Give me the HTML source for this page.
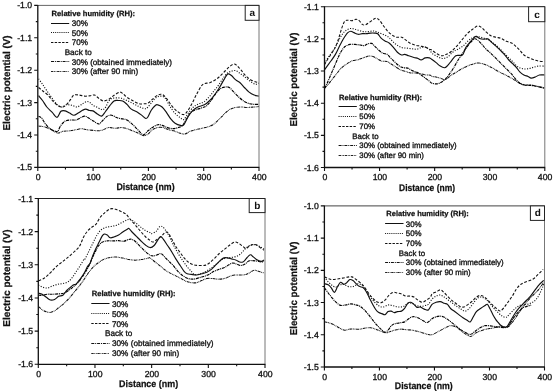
<!DOCTYPE html>
<html lang="en"><head><meta charset="utf-8"><title>Electric potential vs distance at different relative humidity</title>
<style>html,body{margin:0;padding:0;background:#fff}svg{display:block}text{font-family:"Liberation Sans",sans-serif;fill:#111;text-rendering:geometricPrecision}.tk{font-size:8.7px;stroke:#111;stroke-width:.3px}.lg{font-size:8.1px;stroke:#111;stroke-width:.32px}.lt{font-size:7.6px;font-weight:bold;stroke:#111;stroke-width:.25px}.ax{font-size:9.6px;font-weight:bold;stroke:#111;stroke-width:.25px}.pl{font-size:10px;font-weight:bold}polyline,path{fill:none;stroke-linejoin:round}</style></head><body>
<svg width="553" height="392" viewBox="0 0 553 392">
<rect width="553" height="392" fill="#fff"/>
<g id="panel-a">
<path stroke="#111" stroke-width="1.05" stroke-dasharray="3 0.7 0.8 0.7 0.8 0.7" d="M38.6 126.06C39.61 126.2 42.57 126.31 44.67 126.92C46.76 127.54 49 128.73 51.16 129.74C53.33 130.75 55.68 132.74 57.66 132.99C59.65 133.24 61.09 131.62 63.08 131.26C65.07 130.89 67.41 131.07 69.58 130.82C71.74 130.57 74.09 130.1 76.08 129.74C78.06 129.38 79.69 128.66 81.49 128.66C83.3 128.66 84.92 129.45 86.91 129.74C88.89 130.03 91.42 130.21 93.41 130.39C95.39 130.57 97.2 130.93 98.82 130.82C100.45 130.71 101.53 130.28 103.16 129.74C104.78 129.2 106.59 127.83 108.57 127.57C110.56 127.32 112.91 128.22 115.07 128.22C117.24 128.22 119.58 127.5 121.57 127.57C123.56 127.64 125.18 128.11 126.99 128.66C128.79 129.2 130.6 130.1 132.4 130.82C134.21 131.54 136.01 132.19 137.82 132.99C139.62 133.78 141.54 135.41 143.23 135.59C144.93 135.77 146.48 135.05 148 134.07C149.52 133.1 150.71 130.82 152.33 129.74C153.96 128.66 155.94 127.93 157.75 127.57C159.55 127.21 161.36 127.21 163.16 127.57C164.97 127.93 166.77 129.2 168.58 129.74C170.39 130.28 172.19 130.28 174 130.82C175.8 131.36 177.61 132.45 179.41 132.99C181.22 133.53 183.02 134.36 184.83 134.07C186.63 133.78 188.44 131.98 190.24 131.26C192.05 130.53 193.67 130.24 195.66 129.74C197.65 129.23 200.17 128.69 202.16 128.22C204.14 127.75 205.77 127.5 207.57 126.92C209.38 126.34 211.37 125.73 212.99 124.76C214.62 123.78 215.88 122.41 217.32 121.07C218.77 119.74 220.21 118.19 221.66 116.74C223.1 115.3 224.54 113.67 225.99 112.41C227.43 111.14 228.7 109.99 230.32 109.16C231.95 108.33 233.93 107.79 235.74 107.43C237.54 107.06 239.17 106.99 241.15 106.99C243.14 106.99 245.49 107.43 247.65 107.43C249.82 107.43 252.27 107.14 254.15 106.99C256.03 106.85 258.12 106.63 258.92 106.56"/>
<path stroke="#000" stroke-width="1.15" stroke-dasharray="3 0.8 1 0.8" d="M38.6 116.31C39.07 116.56 40.22 116.49 41.42 117.82C42.61 119.16 44.3 122.52 45.75 124.32C47.19 126.13 48.64 127.57 50.08 128.66C51.53 129.74 53.15 130.39 54.41 130.82C55.68 131.26 56.58 132.16 57.66 131.26C58.75 130.35 59.65 127.1 60.91 125.41C62.18 123.71 63.62 121.98 65.25 121.07C66.87 120.17 68.86 120.17 70.66 119.99C72.47 119.81 74.45 120.35 76.08 119.99C77.7 119.63 78.97 118.47 80.41 117.82C81.85 117.17 83.3 116.02 84.74 116.09C86.19 116.16 87.63 117.43 89.08 118.26C90.52 119.09 91.78 120.13 93.41 121.07C95.03 122.01 97.2 124.07 98.82 123.89C100.45 123.71 101.71 121.29 103.16 119.99C104.6 118.69 106.05 116.89 107.49 116.09C108.93 115.3 110.2 114.94 111.82 115.22C113.45 115.51 115.43 117.21 117.24 117.82C119.04 118.44 121.03 118.55 122.65 118.91C124.28 119.27 125.36 119.09 126.99 119.99C128.61 120.89 130.6 122.7 132.4 124.32C134.21 125.95 136.01 128.01 137.82 129.74C139.62 131.47 141.54 134.54 143.23 134.72C144.93 134.9 146.48 132.01 148 130.82C149.52 129.63 150.71 128.58 152.33 127.57C153.96 126.56 156.12 125.12 157.75 124.76C159.37 124.4 160.46 124.94 162.08 125.41C163.71 125.88 165.69 127.03 167.5 127.57C169.3 128.11 171.11 128.66 172.91 128.66C174.72 128.66 176.7 128.11 178.33 127.57C179.95 127.03 181.4 126.67 182.66 125.41C183.93 124.14 184.65 122.05 185.91 119.99C187.17 117.93 188.8 114.68 190.24 113.06C191.69 111.43 192.77 111.07 194.58 110.24C196.38 109.41 199.09 108.8 201.08 108.08C203.06 107.35 204.69 107.35 206.49 105.91C208.3 104.46 210.28 101.58 211.91 99.41C213.53 97.24 214.8 94.72 216.24 92.91C217.68 91.11 219.13 89.55 220.57 88.58C222.02 87.6 223.46 87.24 224.91 87.06C226.35 86.88 227.79 86.7 229.24 87.5C230.68 88.29 231.95 90.2 233.57 91.83C235.2 93.45 237.18 95.62 238.99 97.24C240.79 98.87 242.6 100.49 244.4 101.58C246.21 102.66 248.01 103.27 249.82 103.74C251.62 104.21 253.72 104.28 255.23 104.39C256.75 104.5 258.3 104.39 258.92 104.39"/>
<path stroke="#111" stroke-width="1.1" stroke-dasharray="1.1 1.5" d="M38.6 78.83C39.25 79.73 41.13 82.26 42.5 84.25C43.87 86.23 45.21 88.4 46.83 90.74C48.46 93.09 50.44 95.91 52.25 98.33C54.05 100.75 56.04 103.81 57.66 105.26C59.29 106.7 60.55 107.06 62 106.99C63.44 106.92 64.7 105.11 66.33 104.83C67.95 104.54 69.94 104.9 71.74 105.26C73.55 105.62 75.36 107.25 77.16 106.99C78.97 106.74 80.95 104.65 82.58 103.74C84.2 102.84 85.65 101.76 86.91 101.58C88.17 101.4 89.15 102.05 90.16 102.66C91.17 103.27 91.78 104.46 92.97 105.26C94.17 106.05 95.86 106.7 97.31 107.43C98.75 108.15 100.56 109.3 101.64 109.59C102.72 109.88 103.05 109.7 103.81 109.16C104.56 108.62 105.43 107.61 106.19 106.34C106.95 105.08 107.45 102.88 108.36 101.58C109.26 100.28 110.31 99.16 111.61 98.54C112.91 97.93 114.49 97.93 116.15 97.89C117.82 97.86 119.77 97.89 121.57 98.33C123.38 98.76 125 99.59 126.99 100.49C128.97 101.4 131.32 102.66 133.49 103.74C135.65 104.83 138 106.16 139.98 106.99C141.97 107.82 144.06 108.73 145.4 108.73C146.74 108.73 146.84 108.18 148 106.99C149.16 105.8 150.89 103.2 152.33 101.58C153.78 99.95 155.22 98.15 156.67 97.24C158.11 96.34 159.55 95.98 161 96.16C162.44 96.34 163.89 96.7 165.33 98.33C166.77 99.95 168.04 103.38 169.66 105.91C171.29 108.44 173.27 111.51 175.08 113.49C176.88 115.48 179.05 116.81 180.5 117.82C181.94 118.83 182.48 120.28 183.74 119.56C185.01 118.83 186.45 115.59 188.08 113.49C189.7 111.4 191.69 108.62 193.49 106.99C195.3 105.37 197.1 104.65 198.91 103.74C200.71 102.84 202.52 102.84 204.32 101.58C206.13 100.31 208.12 97.97 209.74 96.16C211.37 94.36 212.63 92.55 214.07 90.74C215.52 88.94 216.96 87.31 218.41 85.33C219.85 83.34 221.29 80.82 222.74 78.83C224.18 76.84 225.63 74.68 227.07 73.41C228.52 72.15 229.96 71.72 231.4 71.25C232.85 70.78 234.29 70.24 235.74 70.6C237.18 70.96 238.63 72.4 240.07 73.41C241.51 74.42 242.78 75.4 244.4 76.66C246.03 77.93 248.01 79.73 249.82 81C251.62 82.26 253.72 83.88 255.23 84.25C256.75 84.61 258.3 83.34 258.92 83.16"/>
<path stroke="#111" stroke-width="1.1" stroke-dasharray="2.8 1.7" d="M38.6 87.5C39.25 88.04 40.95 89.48 42.5 90.74C44.05 92.01 46.11 93.27 47.91 95.08C49.72 96.88 51.53 99.77 53.33 101.58C55.14 103.38 57.12 105.01 58.75 105.91C60.37 106.81 61.64 107.35 63.08 106.99C64.52 106.63 66.15 105.01 67.41 103.74C68.68 102.48 69.58 100.85 70.66 99.41C71.74 97.97 72.47 95.8 73.91 95.08C75.36 94.36 77.52 94.9 79.33 95.08C81.13 95.26 82.94 96.05 84.74 96.16C86.55 96.27 88.53 95.91 90.16 95.73C91.78 95.55 93.05 94.64 94.49 95.08C95.94 95.51 97.38 97.35 98.82 98.33C100.27 99.3 101.53 100.75 103.16 100.93C104.78 101.11 106.95 100.2 108.57 99.41C110.2 98.62 111.1 97.35 112.91 96.16C114.71 94.97 117.78 92.69 119.4 92.26C121.03 91.83 121.39 92.73 122.65 93.56C123.92 94.39 125.36 96.09 126.99 97.24C128.61 98.4 130.42 99.41 132.4 100.49C134.39 101.58 136.92 103.2 138.9 103.74C140.89 104.28 142.8 103.85 144.32 103.74C145.83 103.63 146.66 103.81 148 103.09C149.34 102.37 150.71 100.75 152.33 99.41C153.96 98.07 156.12 95.91 157.75 95.08C159.37 94.25 160.64 93.89 162.08 94.43C163.53 94.97 164.79 96.41 166.41 98.33C168.04 100.24 170.02 103.74 171.83 105.91C173.64 108.08 175.26 109.88 177.25 111.32C179.23 112.77 181.94 114.75 183.74 114.57C185.55 114.39 186.63 112.23 188.08 110.24C189.52 108.26 190.97 105.37 192.41 102.66C193.85 99.95 195.3 96.7 196.74 93.99C198.19 91.29 199.81 88.15 201.08 86.41C202.34 84.68 202.88 84.21 204.32 83.6C205.77 82.98 207.94 83.34 209.74 82.73C211.55 82.12 213.53 80.92 215.16 79.91C216.78 78.9 218.05 77.93 219.49 76.66C220.93 75.4 222.2 73.96 223.82 72.33C225.45 70.71 227.61 68.29 229.24 66.91C230.86 65.54 232.31 64.35 233.57 64.1C234.83 63.85 235.56 64.39 236.82 65.4C238.08 66.41 239.71 68.47 241.15 70.16C242.6 71.86 243.86 73.96 245.49 75.58C247.11 77.21 249.1 78.83 250.9 79.91C252.71 81 254.98 81.61 256.32 82.08C257.65 82.55 258.48 82.62 258.92 82.73"/>
<path stroke="#111" stroke-width="1.15" d="M38.6 95.73C39.25 96.52 41.13 98.62 42.5 100.49C43.87 102.37 45.21 105.01 46.83 106.99C48.46 108.98 50.55 110.68 52.25 112.41C53.94 114.14 55.57 117.57 57.01 117.39C58.46 117.21 59.54 112.41 60.91 111.32C62.28 110.24 63.8 110.6 65.25 110.89C66.69 111.18 68.13 112.34 69.58 113.06C71.02 113.78 72.47 115.22 73.91 115.22C75.36 115.22 76.8 113.89 78.24 113.06C79.69 112.23 81.31 110.89 82.58 110.24C83.84 109.59 84.67 109.12 85.83 109.16C86.98 109.19 88.32 110.17 89.51 110.46C90.7 110.75 91.68 110.31 92.97 110.89C94.27 111.47 95.86 113.06 97.31 113.92C98.75 114.79 100.3 116.45 101.64 116.09C102.98 115.73 103.99 113.46 105.32 111.76C106.66 110.06 108.21 107.71 109.66 105.91C111.1 104.1 112.54 101.83 113.99 100.93C115.43 100.02 116.88 100.49 118.32 100.49C119.77 100.49 121.21 100.28 122.65 100.93C124.1 101.58 125.54 103.02 126.99 104.39C128.43 105.76 129.51 107.82 131.32 109.16C133.12 110.49 136.01 111.32 137.82 112.41C139.62 113.49 140.81 114.65 142.15 115.66C143.49 116.67 144.86 118.29 145.83 118.47C146.81 118.65 147.1 118.11 148 116.74C148.9 115.37 149.99 112.16 151.25 110.24C152.51 108.33 154.5 106.16 155.58 105.26C156.67 104.36 156.67 104.54 157.75 104.83C158.83 105.11 160.64 105.73 162.08 106.99C163.53 108.26 164.97 110.42 166.41 112.41C167.86 114.39 169.3 117.1 170.75 118.91C172.19 120.71 173.45 122.16 175.08 123.24C176.7 124.32 179.05 125.15 180.5 125.41C181.94 125.66 182.48 126.2 183.74 124.76C185.01 123.31 186.63 119.05 188.08 116.74C189.52 114.43 190.79 112.52 192.41 110.89C194.03 109.27 195.84 108 197.83 106.99C199.81 105.98 202.34 105.91 204.32 104.83C206.31 103.74 207.94 102.3 209.74 100.49C211.55 98.69 213.53 96.16 215.16 93.99C216.78 91.83 218.05 89.84 219.49 87.5C220.93 85.15 222.45 82.15 223.82 79.91C225.19 77.67 226.46 74.79 227.72 74.06C228.99 73.34 230.07 74.61 231.4 75.58C232.74 76.56 234.29 78.72 235.74 79.91C237.18 81.1 238.63 81.47 240.07 82.73C241.51 83.99 242.96 85.98 244.4 87.5C245.85 89.01 247.11 90.56 248.74 91.83C250.36 93.09 252.45 94.36 254.15 95.08C255.85 95.8 258.12 95.98 258.92 96.16"/>
<path d="M37.8 5.4H259" fill="none" stroke="#666" stroke-width="1"/>
<path d="M259 5.4V167.4" fill="none" stroke="#777" stroke-width="1"/>
<path d="M37.8 5V167.4H259.4" fill="none" stroke="#111" stroke-width="1.3"/>
<path d="M37.8 167.4v3.6M65.45 167.4v2M93.1 167.4v3.6M120.75 167.4v2M148.4 167.4v3.6M176.05 167.4v2M203.7 167.4v3.6M231.35 167.4v2M259 167.4v3.6M37.8 5.4h-3.6M37.8 21.6h-2M37.8 37.8h-3.6M37.8 54h-2M37.8 70.2h-3.6M37.8 86.4h-2M37.8 102.6h-3.6M37.8 118.8h-2M37.8 135h-3.6M37.8 151.2h-2M37.8 167.4h-3.6" stroke="#111" stroke-width="1.1" fill="none"/>
<text class="tk" x="38.1" y="180" text-anchor="middle">0</text>
<text class="tk" x="93.4" y="180" text-anchor="middle">100</text>
<text class="tk" x="148.7" y="180" text-anchor="middle">200</text>
<text class="tk" x="204" y="180" text-anchor="middle">300</text>
<text class="tk" x="259.3" y="180" text-anchor="middle">400</text>
<text class="tk" x="32.2" y="8.4" text-anchor="end">-1.0</text>
<text class="tk" x="32.2" y="40.8" text-anchor="end">-1.1</text>
<text class="tk" x="32.2" y="73.2" text-anchor="end">-1.2</text>
<text class="tk" x="32.2" y="105.6" text-anchor="end">-1.3</text>
<text class="tk" x="32.2" y="138" text-anchor="end">-1.4</text>
<text class="tk" x="32.2" y="170.4" text-anchor="end">-1.5</text>
<text class="ax" transform="translate(145.5 190) scale(0.918 1)" text-anchor="middle" style="font-size:9.6px">Distance (nm)</text>
<text class="ax" transform="translate(10.2 83) rotate(-90) scale(0.985 1)" text-anchor="middle" style="font-size:10px">Electric potential (V)</text>
<rect x="245.2" y="5.4" width="13.8" height="14.9" fill="#fff" stroke="#222" stroke-width="1"/>
<text class="pl" x="252.4" y="16.15" text-anchor="middle">a</text>
<text class="lt" x="51.6" y="15.5" style="font-size:7.59px">Relative humidity (RH):</text>
<path stroke="#111" stroke-width="1.0" d="M51 23.5H69.2"/>
<text class="lg" x="71.7" y="26">30%</text>
<path stroke="#111" stroke-width="1.0" stroke-dasharray="1 1.1" d="M51 32.5H69.2"/>
<text class="lg" x="71.7" y="35.68">50%</text>
<path stroke="#111" stroke-width="1.0" stroke-dasharray="2.4 1.3" d="M51 42.5H69.2"/>
<text class="lg" x="71.7" y="45.36">70%</text>
<text class="lg" x="64.7" y="55.04">Back to</text>
<path stroke="#111" stroke-width="1.0" stroke-dasharray="3 0.9 1 0.9" d="M51 61.5H69.2"/>
<text class="lg" x="71.7" y="64.72">30% (obtained immediately)</text>
<path stroke="#222" stroke-width="1.0" stroke-dasharray="2.4 0.7 0.8 0.7 0.8 0.7" d="M51 71.5H69.2"/>
<text class="lg" x="71.7" y="74.4">30% (after 90 min)</text>
</g>
<g id="panel-b">
<path stroke="#111" stroke-width="1.05" stroke-dasharray="3 0.7 0.8 0.7 0.8 0.7" d="M38.48 306.63C39.1 307.15 40.89 308.87 42.2 309.73C43.5 310.59 44.95 311.35 46.33 311.79C47.7 312.24 49.08 312.59 50.46 312.41C51.83 312.24 53.21 311.55 54.59 310.76C55.96 309.97 57.17 308.87 58.72 307.66C60.27 306.46 62.16 305.08 63.88 303.53C65.6 301.98 67.32 300.26 69.04 298.37C70.76 296.48 72.49 294.24 74.21 292.17C75.93 290.11 77.65 288.22 79.37 285.98C81.09 283.74 82.98 280.99 84.53 278.75C86.08 276.51 87.11 274.62 88.66 272.55C90.21 270.49 92.11 268.08 93.83 266.36C95.55 264.64 97.27 263.43 98.99 262.23C100.71 261.02 102.26 259.92 104.15 259.13C106.05 258.34 108.28 257.82 110.35 257.48C112.41 257.13 114.48 256.96 116.54 257.07C118.61 257.17 120.67 257.68 122.74 258.1C124.8 258.51 126.87 259.2 128.93 259.54C131 259.89 133.07 260.16 135.13 260.16C137.2 260.16 139.09 259.89 141.33 259.54C143.56 259.2 147.11 258.38 148.55 258.1C150 257.82 148.9 257.23 150 257.88C151.1 258.53 153.44 260.63 155.16 262.01C156.88 263.39 158.61 264.76 160.33 266.14C162.05 267.52 163.77 269.07 165.49 270.27C167.21 271.48 168.93 272.44 170.65 273.37C172.37 274.3 174.09 274.99 175.82 275.85C177.54 276.71 179.26 277.64 180.98 278.53C182.7 279.43 184.42 280.53 186.14 281.22C187.86 281.91 189.58 282.42 191.3 282.66C193.03 282.9 194.75 283.01 196.47 282.66C198.19 282.32 199.91 281.29 201.63 280.6C203.35 279.91 205.07 278.88 206.79 278.53C208.51 278.19 210.06 278.43 211.96 278.53C213.85 278.64 216.09 279.15 218.15 279.15C220.22 279.15 222.45 278.98 224.35 278.53C226.24 278.09 227.79 277.05 229.51 276.47C231.23 275.88 232.78 275.26 234.67 275.02C236.57 274.78 238.98 275.12 240.87 275.02C242.76 274.92 244.48 274.85 246.03 274.4C247.58 273.95 248.79 273.03 250.16 272.34C251.54 271.65 252.92 270.44 254.29 270.27C255.67 270.1 256.81 270.86 258.42 271.3C260.04 271.75 263.07 272.68 264 272.96"/>
<path stroke="#000" stroke-width="1.15" stroke-dasharray="3 0.8 1 0.8" d="M38.48 295.27C39.1 295.27 40.72 295.44 42.2 295.27C43.68 295.1 45.64 294.41 47.36 294.24C49.08 294.07 50.63 294.31 52.52 294.24C54.41 294.17 56.82 294 58.72 293.83C60.61 293.65 62.16 293.83 63.88 293.21C65.6 292.59 67.32 291.31 69.04 290.11C70.76 288.9 72.49 287.53 74.21 285.98C75.93 284.43 77.65 282.88 79.37 280.82C81.09 278.75 82.98 276 84.53 273.59C86.08 271.18 87.46 268.77 88.66 266.36C89.87 263.95 90.73 261.41 91.76 259.13C92.79 256.85 93.83 254.77 94.86 252.66C95.89 250.55 96.75 248.19 97.96 246.47C99.16 244.75 100.54 243.27 102.09 242.34C103.64 241.41 105.36 241.13 107.25 240.89C109.14 240.65 111.55 240.93 113.45 240.89C115.34 240.86 116.89 240.62 118.61 240.68C120.33 240.75 122.22 241.48 123.77 241.3C125.32 241.13 126.63 240 127.9 239.65C129.18 239.31 130.21 238.96 131.41 239.24C132.62 239.51 133.82 240.27 135.13 241.3C136.44 242.34 137.71 243.89 139.26 245.43C140.81 246.98 142.63 248.97 144.42 250.6C146.21 252.22 148.38 254.33 150 255.2C151.62 256.07 152.75 255.95 154.13 255.82C155.51 255.68 157.06 254.71 158.26 254.37C159.47 254.03 160.15 253.16 161.36 253.75C162.56 254.34 164.11 256.5 165.49 257.88C166.87 259.26 168.24 260.63 169.62 262.01C171 263.39 172.37 264.59 173.75 266.14C175.13 267.69 176.33 269.69 177.88 271.3C179.43 272.92 181.32 274.64 183.04 275.85C184.76 277.05 186.49 277.98 188.21 278.53C189.93 279.08 191.65 279.26 193.37 279.15C195.09 279.05 196.81 278.36 198.53 277.91C200.25 277.47 201.97 277.05 203.7 276.47C205.42 275.88 207.14 275.26 208.86 274.4C210.58 273.54 212.3 272.16 214.02 271.3C215.74 270.44 217.46 269.86 219.18 269.24C220.91 268.62 222.8 268.28 224.35 267.59C225.9 266.9 227.1 265.87 228.48 265.11C229.86 264.35 231.23 263.22 232.61 263.04C233.99 262.87 235.36 263.66 236.74 264.08C238.12 264.49 239.49 265.52 240.87 265.52C242.25 265.52 243.69 264.83 245 264.08C246.31 263.32 247.51 261.56 248.72 260.98C249.92 260.39 250.95 260.57 252.23 260.57C253.5 260.57 254.81 260.74 256.36 260.98C257.91 261.22 260.25 261.94 261.52 262.01C262.8 262.08 263.59 261.49 264 261.39"/>
<path stroke="#111" stroke-width="1.1" stroke-dasharray="1.1 1.5" d="M38.48 284.95C39.1 285.29 40.72 286.49 42.2 287.01C43.68 287.53 45.64 288.22 47.36 288.04C49.08 287.87 50.8 286.6 52.52 285.98C54.24 285.36 55.96 284.74 57.68 284.33C59.41 283.91 61.13 283.91 62.85 283.5C64.57 283.09 66.46 282.81 68.01 281.85C69.56 280.88 70.76 279.44 72.14 277.72C73.52 276 74.89 273.59 76.27 271.52C77.65 269.46 79.2 267.22 80.4 265.33C81.61 263.43 82.81 261.07 83.5 260.16C84.19 259.26 83.67 261.31 84.53 259.89C85.39 258.47 87.29 254.38 88.66 251.63C90.04 248.88 91.42 246.12 92.79 243.37C94.17 240.62 95.55 237.35 96.92 235.11C98.3 232.87 99.51 231.25 101.05 229.95C102.6 228.64 104.5 227.85 106.22 227.26C107.94 226.68 109.66 226.78 111.38 226.43C113.1 226.09 114.82 225.82 116.54 225.2C118.26 224.58 119.99 223.58 121.71 222.72C123.43 221.86 125.49 220.62 126.87 220.03C128.25 219.45 128.76 218.93 129.97 219.21C131.17 219.48 132.55 220.58 134.1 221.68C135.65 222.79 137.54 224.44 139.26 225.82C140.98 227.19 142.63 228.81 144.42 229.95C146.21 231.08 148.9 232 150 232.63C151.1 233.26 150.17 233.81 151.03 233.72C151.89 233.62 154.13 232.68 155.16 232.07C156.2 231.45 156.44 230.93 157.23 230C158.02 229.07 158.98 227.01 159.91 226.49C160.84 225.97 161.74 226.11 162.8 226.9C163.87 227.69 165.35 229.86 166.32 231.24C167.28 232.62 167.69 233.48 168.59 235.16C169.48 236.85 170.65 239.29 171.68 241.36C172.72 243.42 173.58 245.32 174.78 247.55C175.99 249.79 177.54 252.55 178.91 254.78C180.29 257.02 181.67 258.98 183.04 260.98C184.42 262.97 185.8 265.04 187.17 266.76C188.55 268.48 190.1 270.03 191.3 271.3C192.51 272.58 193.2 273.89 194.4 274.4C195.61 274.92 197.16 274.64 198.53 274.4C199.91 274.16 201.11 273.64 202.66 272.96C204.21 272.27 206.11 271.3 207.83 270.27C209.55 269.24 211.27 268.03 212.99 266.76C214.71 265.49 216.6 263.87 218.15 262.63C219.7 261.39 220.73 260.12 222.28 259.33C223.83 258.53 225.72 258.22 227.45 257.88C229.17 257.54 230.89 257.61 232.61 257.26C234.33 256.92 236.22 256.57 237.77 255.82C239.32 255.06 240.7 253.85 241.9 252.72C243.11 251.58 243.86 250.1 245 249C246.14 247.9 247.51 246.8 248.72 246.11C249.92 245.42 250.95 245.08 252.23 244.87C253.5 244.66 254.98 244.53 256.36 244.87C257.74 245.21 259.22 246.25 260.49 246.93C261.76 247.62 263.41 248.66 264 249"/>
<path stroke="#111" stroke-width="1.1" stroke-dasharray="2.8 1.7" d="M38.48 280.82C39.27 280.47 41.75 279.61 43.23 278.75C44.71 277.89 45.98 276.86 47.36 275.65C48.74 274.45 49.94 273.07 51.49 271.52C53.04 269.97 54.93 267.91 56.65 266.36C58.37 264.81 60.09 263.61 61.82 262.23C63.54 260.85 65.09 259.69 66.98 258.1C68.87 256.5 71.11 254.6 73.17 252.66C75.24 250.72 77.65 249.05 79.37 246.47C81.09 243.89 82.12 239.76 83.5 237.17C84.88 234.59 86.25 232.63 87.63 230.98C89.01 229.33 90.38 228.36 91.76 227.26C93.14 226.16 94.51 225.99 95.89 224.37C97.27 222.75 98.47 219.55 100.02 217.55C101.57 215.56 103.46 213.84 105.18 212.39C106.91 210.95 108.63 209.4 110.35 208.88C112.07 208.36 113.79 208.88 115.51 209.29C117.23 209.71 118.95 210.57 120.67 211.36C122.39 212.15 124.29 212.77 125.84 214.04C127.39 215.32 128.42 217.21 129.97 219C131.52 220.79 133.41 222.79 135.13 224.78C136.85 226.78 138.57 228.98 140.29 230.98C142.01 232.97 143.84 235.2 145.46 236.76C147.07 238.32 148.73 239.46 150 240.33C151.27 241.2 151.89 242.15 153.1 241.98C154.3 241.81 155.85 240.26 157.23 239.29C158.61 238.33 160.15 237.23 161.36 236.2C162.56 235.16 163.53 233.79 164.46 233.1C165.39 232.41 166.07 231.72 166.93 232.07C167.8 232.41 168.66 233.72 169.62 235.16C170.58 236.61 171.68 238.85 172.72 240.74C173.75 242.63 174.61 244.59 175.82 246.52C177.02 248.45 178.57 250.41 179.95 252.3C181.32 254.2 182.7 256.26 184.08 257.88C185.45 259.5 186.66 260.88 188.21 262.01C189.76 263.15 191.48 264.11 193.37 264.7C195.26 265.28 197.5 265.45 199.57 265.52C201.63 265.59 204.04 265.59 205.76 265.11C207.48 264.63 208.34 263.84 209.89 262.63C211.44 261.43 213.33 259.53 215.05 257.88C216.78 256.23 218.5 254.27 220.22 252.72C221.94 251.17 223.66 249.96 225.38 248.59C227.1 247.21 228.93 245.56 230.54 244.46C232.16 243.36 233.71 242.15 235.09 241.98C236.46 241.81 237.5 242.67 238.8 243.42C240.11 244.18 241.73 245.66 242.93 246.52C244.14 247.38 245 248.66 246.03 248.59C247.07 248.52 247.93 246.8 249.13 246.11C250.34 245.42 251.88 244.56 253.26 244.46C254.64 244.35 256.01 244.8 257.39 245.49C258.77 246.18 260.42 247.8 261.52 248.59C262.62 249.38 263.59 249.96 264 250.24"/>
<path stroke="#111" stroke-width="1.15" d="M38.48 293.21C39.1 293.38 40.89 293.55 42.2 294.24C43.5 294.93 44.95 296.37 46.33 297.34C47.7 298.3 49.08 299.68 50.46 300.02C51.83 300.37 53.21 300.02 54.59 299.4C55.96 298.78 57.34 296.99 58.72 296.3C60.09 295.62 61.47 296.3 62.85 295.27C64.22 294.24 65.77 291.38 66.98 290.11C68.18 288.84 69.04 288.49 70.08 287.63C71.11 286.77 72.14 285.57 73.17 284.95C74.21 284.33 75.07 284.95 76.27 283.91C77.48 282.88 79.03 280.64 80.4 278.75C81.78 276.86 83.33 274.62 84.53 272.55C85.74 270.49 86.7 267.91 87.63 266.36C88.56 264.81 89.25 265.03 90.11 263.26C90.97 261.49 91.83 258.22 92.79 255.76C93.76 253.31 94.86 250.77 95.89 248.53C96.92 246.3 97.96 244.4 98.99 242.34C100.02 240.27 101.23 237.52 102.09 236.14C102.95 234.76 103.29 234.25 104.15 234.08C105.01 233.9 106.22 234.49 107.25 235.11C108.28 235.73 109.14 237.52 110.35 237.79C111.55 238.07 113.1 237.21 114.48 236.76C115.86 236.31 117.23 235.9 118.61 235.11C119.99 234.32 121.36 232.94 122.74 232.01C124.12 231.08 125.84 230.12 126.87 229.53C127.9 228.95 128.07 228.09 128.93 228.5C129.8 228.91 130.83 230.74 132.03 232.01C133.24 233.28 134.79 234.76 136.16 236.14C137.54 237.52 138.74 238.79 140.29 240.27C141.84 241.75 143.84 243.81 145.46 245.02C147.07 246.24 148.55 247.48 150 247.55C151.45 247.63 152.75 246.87 154.13 245.49C155.51 244.11 157.16 240.77 158.26 239.29C159.36 237.81 159.88 236.61 160.74 236.61C161.6 236.61 162.29 237.81 163.42 239.29C164.56 240.77 166.18 243.42 167.55 245.49C168.93 247.55 170.31 249.45 171.68 251.68C173.06 253.92 174.44 256.68 175.82 258.91C177.19 261.15 178.57 263.04 179.95 265.11C181.32 267.17 182.87 269.86 184.08 271.3C185.28 272.75 185.97 273.27 187.17 273.78C188.38 274.3 189.76 274.2 191.3 274.4C192.85 274.61 194.75 275.12 196.47 275.02C198.19 274.92 199.91 274.23 201.63 273.78C203.35 273.34 205.07 273.16 206.79 272.34C208.51 271.51 210.41 270.1 211.96 268.83C213.51 267.55 214.71 266.07 216.09 264.7C217.46 263.32 218.91 261.7 220.22 260.57C221.53 259.43 222.73 258.33 223.93 257.88C225.14 257.43 226.17 257.71 227.45 257.88C228.72 258.05 230.2 258.57 231.58 258.91C232.95 259.26 234.33 259.43 235.71 259.95C237.08 260.46 238.63 261.67 239.84 262.01C241.04 262.36 241.9 262.53 242.93 262.01C243.97 261.49 245.07 259.95 246.03 258.91C247 257.88 247.93 256.5 248.72 255.82C249.51 255.13 250.03 254.61 250.78 254.78C251.54 254.95 252.16 255.99 253.26 256.85C254.36 257.71 256.01 259.19 257.39 259.95C258.77 260.7 260.42 261.39 261.52 261.39C262.62 261.39 263.59 260.19 264 259.95"/>
<path d="M38.3 198.5H265" fill="none" stroke="#222" stroke-width="1"/>
<path d="M265 198.5V364.3" fill="none" stroke="#777" stroke-width="1"/>
<path d="M38.3 198.1V364.3H265.4" fill="none" stroke="#111" stroke-width="1.3"/>
<path d="M38.3 364.3v3.6M66.64 364.3v2M94.97 364.3v3.6M123.31 364.3v2M151.65 364.3v3.6M179.99 364.3v2M208.32 364.3v3.6M236.66 364.3v2M265 364.3v3.6M38.3 198.5h-3.6M38.3 215.08h-2M38.3 231.66h-3.6M38.3 248.24h-2M38.3 264.82h-3.6M38.3 281.4h-2M38.3 297.98h-3.6M38.3 314.56h-2M38.3 331.14h-3.6M38.3 347.72h-2M38.3 364.3h-3.6" stroke="#111" stroke-width="1.1" fill="none"/>
<text class="tk" x="38.6" y="376.9" text-anchor="middle">0</text>
<text class="tk" x="95.27" y="376.9" text-anchor="middle">100</text>
<text class="tk" x="151.95" y="376.9" text-anchor="middle">200</text>
<text class="tk" x="208.62" y="376.9" text-anchor="middle">300</text>
<text class="tk" x="265.3" y="376.9" text-anchor="middle">400</text>
<text class="tk" x="33.2" y="201.5" text-anchor="end">-1.1</text>
<text class="tk" x="33.2" y="234.66" text-anchor="end">-1.2</text>
<text class="tk" x="33.2" y="267.82" text-anchor="end">-1.3</text>
<text class="tk" x="33.2" y="300.98" text-anchor="end">-1.4</text>
<text class="tk" x="33.2" y="334.14" text-anchor="end">-1.5</text>
<text class="tk" x="33.2" y="367.3" text-anchor="end">-1.6</text>
<text class="ax" transform="translate(148.6 387.2) scale(0.931 1)" text-anchor="middle" style="font-size:9.6px">Distance (nm)</text>
<text class="ax" transform="translate(10.4 278.1) rotate(-90) scale(1.005 1)" text-anchor="middle" style="font-size:10px">Electric potential (V)</text>
<rect x="249.2" y="198.5" width="15.8" height="14.1" fill="#fff" stroke="#222" stroke-width="1"/>
<text class="pl" x="257.4" y="208.85" text-anchor="middle">b</text>
<text class="lt" x="91.7" y="296.2" style="font-size:7.64px">Relative humidity (RH):</text>
<path stroke="#111" stroke-width="1.0" d="M91.3 303.5H109.5"/>
<text class="lg" x="112" y="306.6" style="font-size:8.2px">30%</text>
<path stroke="#111" stroke-width="1.0" stroke-dasharray="1 1.1" d="M91.3 313.5H109.5"/>
<text class="lg" x="112" y="316.55" style="font-size:8.2px">50%</text>
<path stroke="#111" stroke-width="1.0" stroke-dasharray="2.4 1.3" d="M91.3 323.5H109.5"/>
<text class="lg" x="112" y="326.5" style="font-size:8.2px">70%</text>
<text class="lg" x="105" y="336.45" style="font-size:8.2px">Back to</text>
<path stroke="#111" stroke-width="1.0" stroke-dasharray="3 0.9 1 0.9" d="M91.3 343.5H109.5"/>
<text class="lg" x="112" y="346.4" style="font-size:8.2px">30% (obtained immediately)</text>
<path stroke="#222" stroke-width="1.0" stroke-dasharray="2.4 0.7 0.8 0.7 0.8 0.7" d="M91.3 353.5H109.5"/>
<text class="lg" x="112" y="356.35" style="font-size:8.2px">30% (after 90 min)</text>
</g>
<g id="panel-c">
<path stroke="#111" stroke-width="1.05" stroke-dasharray="3 0.7 0.8 0.7 0.8 0.7" d="M324.48 88.41C325.1 87.72 326.89 85.83 328.2 84.28C329.5 82.73 330.95 80.84 332.33 79.12C333.7 77.4 335.08 75.68 336.46 73.96C337.83 72.24 339.21 70.24 340.59 68.79C341.96 67.35 343.34 66.32 344.72 65.28C346.09 64.25 347.47 63.39 348.85 62.6C350.22 61.81 351.6 60.98 352.98 60.53C354.36 60.09 355.73 60.26 357.11 59.91C358.49 59.57 359.86 58.95 361.24 58.47C362.62 57.99 363.99 57.43 365.37 57.02C366.75 56.61 368.12 56.02 369.5 55.99C370.88 55.95 372.25 56.3 373.63 56.82C375.01 57.33 376.38 58.36 377.76 59.09C379.14 59.81 380.34 60.74 381.89 61.15C383.44 61.57 385.51 61.08 387.05 61.57C388.6 62.05 389.81 63.18 391.18 64.04C392.56 64.9 393.77 65.76 395.32 66.73C396.86 67.69 398.76 69.03 400.48 69.83C402.2 70.62 403.92 70.96 405.64 71.48C407.36 71.99 409.08 72.68 410.8 72.92C412.53 73.16 414.25 72.75 415.97 72.92C417.69 73.1 419.41 73.61 421.13 73.96C422.85 74.3 424.74 74.78 426.29 74.99C427.84 75.2 429.47 74.95 430.42 75.2C431.38 75.44 431.05 76.12 432 76.43C432.95 76.74 434.58 76.71 436.13 77.05C437.68 77.4 439.78 78.09 441.29 78.5C442.81 78.91 443.5 80.12 445.22 79.53C446.94 78.95 449.69 76.26 451.62 74.99C453.55 73.72 454.89 73.03 456.78 71.89C458.68 70.76 460.91 69.28 462.98 68.17C465.04 67.07 467.28 66.04 469.17 65.28C471.07 64.53 472.79 64.01 474.34 63.63C475.89 63.25 476.92 62.94 478.47 63.01C480.02 63.08 481.91 63.53 483.63 64.04C485.35 64.56 487.07 65.32 488.79 66.11C490.51 66.9 492.24 67.83 493.96 68.79C495.68 69.76 497.4 70.96 499.12 71.89C500.84 72.82 502.56 73.51 504.28 74.37C506 75.23 507.72 76.09 509.45 77.05C511.17 78.02 512.89 79.12 514.61 80.15C516.33 81.18 518.05 82.39 519.77 83.25C521.49 84.11 523.21 85.07 524.93 85.32C526.66 85.56 528.38 84.59 530.1 84.7C531.82 84.8 533.54 85.49 535.26 85.93C536.98 86.38 538.88 86.97 540.42 87.38C541.97 87.79 543.87 88.24 544.55 88.41"/>
<path stroke="#000" stroke-width="1.15" stroke-dasharray="3 0.8 1 0.8" d="M324.48 88.41C324.93 87.55 326.2 85.32 327.16 83.25C328.13 81.18 329.23 78.43 330.26 76.02C331.29 73.61 332.33 71.2 333.36 68.79C334.39 66.38 335.42 63.97 336.46 61.57C337.49 59.16 338.52 56.4 339.55 54.34C340.59 52.27 341.62 50.55 342.65 49.17C343.68 47.8 344.55 46.87 345.75 46.08C346.95 45.28 348.33 44.7 349.88 44.42C351.43 44.15 353.32 44.32 355.04 44.42C356.76 44.53 358.66 44.84 360.21 45.04C361.76 45.25 363.13 45.84 364.34 45.66C365.54 45.49 366.23 44.39 367.43 44.01C368.64 43.63 370.36 43.05 371.57 43.39C372.77 43.74 373.46 44.94 374.66 46.08C375.87 47.21 377.42 49 378.79 50.21C380.17 51.41 381.55 52.62 382.92 53.3C384.3 53.99 385.68 53.48 387.05 54.34C388.43 55.2 389.81 57.09 391.18 58.47C392.56 59.84 393.94 61.32 395.32 62.6C396.69 63.87 398.07 65.25 399.45 66.11C400.82 66.97 402.2 67.42 403.58 67.76C404.95 68.11 406.16 67.66 407.71 68.17C409.26 68.69 411.32 70.17 412.87 70.86C414.42 71.55 415.62 71.62 417 72.3C418.38 72.99 419.75 74.03 421.13 74.99C422.51 75.95 423.88 77.05 425.26 78.09C426.64 79.12 428.27 80.32 429.39 81.18C430.51 82.05 430.74 82.8 432 83.25C433.26 83.7 435.41 84.04 436.96 83.87C438.51 83.7 439.88 83.01 441.29 82.22C442.7 81.43 444.05 80.5 445.42 79.12C446.8 77.74 448.18 75.85 449.55 73.96C450.93 72.06 452.31 70 453.68 67.76C455.06 65.52 456.44 62.77 457.82 60.53C459.19 58.3 460.57 56.4 461.95 54.34C463.32 52.27 464.7 50.03 466.08 48.14C467.45 46.25 468.83 44.53 470.21 42.98C471.58 41.43 473.13 39.36 474.34 38.85C475.54 38.33 476.23 39.02 477.43 39.88C478.64 40.74 480.19 42.53 481.57 44.01C482.94 45.49 484.15 47.21 485.7 48.76C487.24 50.31 489.14 51.69 490.86 53.3C492.58 54.92 494.3 56.75 496.02 58.47C497.74 60.19 499.46 61.91 501.18 63.63C502.91 65.35 504.63 67.07 506.35 68.79C508.07 70.51 509.96 72.24 511.51 73.96C513.06 75.68 514.26 77.57 515.64 79.12C517.02 80.67 518.39 82.32 519.77 83.25C521.15 84.18 522.35 84.35 523.9 84.7C525.45 85.04 527.34 85.11 529.07 85.32C530.79 85.52 532.51 85.69 534.23 85.93C535.95 86.18 537.67 86.42 539.39 86.76C541.11 87.11 543.69 87.79 544.55 88"/>
<path stroke="#111" stroke-width="1.1" stroke-dasharray="1.1 1.5" d="M324.48 63.63C325.1 62.6 326.89 59.43 328.2 57.43C329.5 55.44 330.95 53.72 332.33 51.65C333.7 49.59 335.25 47.18 336.46 45.04C337.66 42.91 338.52 40.74 339.55 38.85C340.59 36.95 341.62 35.06 342.65 33.68C343.68 32.31 344.55 31.45 345.75 30.59C346.95 29.73 348.5 28.8 349.88 28.52C351.26 28.25 352.63 28.66 354.01 28.93C355.39 29.21 356.59 29.73 358.14 30.17C359.69 30.62 361.58 31.38 363.3 31.62C365.03 31.86 366.75 31.72 368.47 31.62C370.19 31.52 372.08 30.9 373.63 31C375.18 31.1 376.21 31.69 377.76 32.24C379.31 32.79 381.2 33.55 382.92 34.3C384.64 35.06 386.54 35.68 388.09 36.78C389.64 37.88 390.84 39.61 392.22 40.91C393.59 42.22 394.8 43.53 396.35 44.63C397.9 45.73 399.79 46.94 401.51 47.52C403.23 48.11 404.95 47.93 406.67 48.14C408.39 48.35 410.12 48.59 411.84 48.76C413.56 48.93 415.45 49.38 417 49.17C418.55 48.97 419.75 47.87 421.13 47.52C422.51 47.18 423.88 46.76 425.26 47.11C426.64 47.45 428.27 48.55 429.39 49.59C430.51 50.62 430.7 52.17 432 53.3C433.3 54.44 435.44 55.54 437.16 56.4C438.88 57.26 440.61 58.36 442.33 58.47C444.05 58.57 445.77 58.05 447.49 57.02C449.21 55.99 450.93 53.58 452.65 52.27C454.37 50.96 456.09 50.21 457.82 49.17C459.54 48.14 461.26 47.45 462.98 46.08C464.7 44.7 466.59 42.29 468.14 40.91C469.69 39.54 470.89 38.5 472.27 37.82C473.65 37.13 475.03 36.89 476.4 36.78C477.78 36.68 479.16 36.92 480.53 37.2C481.91 37.47 483.29 37.99 484.66 38.43C486.04 38.88 487.42 39.12 488.79 39.88C490.17 40.64 491.55 41.95 492.92 42.98C494.3 44.01 495.68 44.87 497.05 46.08C498.43 47.28 499.81 48.83 501.18 50.21C502.56 51.58 503.94 52.96 505.32 54.34C506.69 55.71 508.07 57.09 509.45 58.47C510.82 59.84 512.2 61.22 513.58 62.6C514.95 63.97 516.16 65.7 517.71 66.73C519.26 67.76 521.15 68.45 522.87 68.79C524.59 69.14 526.31 69.03 528.03 68.79C529.75 68.55 531.47 67.8 533.2 67.35C534.92 66.9 536.47 66.32 538.36 66.11C540.25 65.9 543.52 66.11 544.55 66.11"/>
<path stroke="#111" stroke-width="1.1" stroke-dasharray="2.8 1.7" d="M324.48 64.66C325.1 63.63 326.89 60.53 328.2 58.47C329.5 56.4 331.12 54.16 332.33 52.27C333.53 50.38 334.39 49.35 335.42 47.11C336.46 44.87 337.49 41.95 338.52 38.85C339.55 35.75 340.59 31.45 341.62 28.52C342.65 25.6 343.68 22.67 344.72 21.29C345.75 19.92 346.61 20.36 347.82 20.26C349.02 20.16 350.57 20.85 351.95 20.67C353.32 20.5 354.87 19.23 356.08 19.23C357.28 19.23 358.14 19.81 359.17 20.67C360.21 21.53 361.24 23.7 362.27 24.39C363.3 25.08 364.16 25.15 365.37 24.8C366.57 24.46 368.12 23.26 369.5 22.33C370.88 21.4 372.43 19.92 373.63 19.23C374.84 18.54 375.7 17.95 376.73 18.2C377.76 18.44 378.62 19.3 379.83 20.67C381.03 22.05 382.58 24.63 383.96 26.46C385.33 28.28 386.71 30.17 388.09 31.62C389.46 33.07 390.84 34.2 392.22 35.13C393.59 36.06 394.8 36.85 396.35 37.2C397.9 37.54 399.96 36.75 401.51 37.2C403.06 37.64 404.26 38.92 405.64 39.88C407.02 40.84 408.22 42.12 409.77 42.98C411.32 43.84 413.21 44.53 414.93 45.04C416.66 45.56 418.38 45.73 420.1 46.08C421.82 46.42 423.71 46.59 425.26 47.11C426.81 47.62 428.27 48.66 429.39 49.17C430.51 49.69 430.88 49.52 432 50.21C433.12 50.89 434.58 52.38 436.13 53.3C437.68 54.23 439.57 55.61 441.29 55.78C443.01 55.95 444.74 55.09 446.46 54.34C448.18 53.58 449.9 52.62 451.62 51.24C453.34 49.86 455.06 47.97 456.78 46.08C458.5 44.18 460.22 41.95 461.95 39.88C463.67 37.82 465.39 35.41 467.11 33.68C468.83 31.96 470.55 30.83 472.27 29.55C473.99 28.28 475.89 26.39 477.43 26.04C478.98 25.7 480.19 26.56 481.57 27.49C482.94 28.42 484.15 30.24 485.7 31.62C487.24 33 489.14 34.82 490.86 35.75C492.58 36.68 494.3 36.75 496.02 37.2C497.74 37.64 499.46 37.75 501.18 38.43C502.91 39.12 504.63 40.57 506.35 41.33C508.07 42.08 509.96 42.19 511.51 42.98C513.06 43.77 514.26 44.87 515.64 46.08C517.02 47.28 518.39 48.73 519.77 50.21C521.15 51.69 522.35 53.68 523.9 54.96C525.45 56.23 527.34 57.02 529.07 57.85C530.79 58.67 532.51 59.36 534.23 59.91C535.95 60.46 537.67 60.88 539.39 61.15C541.11 61.43 543.69 61.5 544.55 61.57"/>
<path stroke="#111" stroke-width="1.15" d="M324.48 69.83C324.93 69.21 326.03 67.66 327.16 66.11C328.3 64.56 329.92 62.49 331.29 60.53C332.67 58.57 334.22 56.4 335.42 54.34C336.63 52.27 337.49 50.21 338.52 48.14C339.55 46.08 340.59 43.84 341.62 41.95C342.65 40.05 343.68 38.33 344.72 36.78C345.75 35.23 346.78 33.58 347.82 32.65C348.85 31.72 349.88 31.21 350.91 31.21C351.95 31.21 352.81 32.14 354.01 32.65C355.22 33.17 356.76 34.13 358.14 34.3C359.52 34.48 360.89 33.79 362.27 33.68C363.65 33.58 365.03 33.79 366.4 33.68C367.78 33.58 369.16 33.17 370.53 33.07C371.91 32.96 373.46 32.96 374.66 33.07C375.87 33.17 376.73 32.89 377.76 33.68C378.79 34.48 379.65 36.61 380.86 37.82C382.06 39.02 383.61 40.05 384.99 40.91C386.37 41.77 387.74 41.95 389.12 42.98C390.5 44.01 391.87 45.56 393.25 47.11C394.63 48.66 396 50.96 397.38 52.27C398.76 53.58 400.31 54.61 401.51 54.96C402.72 55.3 403.4 54.2 404.61 54.34C405.81 54.47 407.19 55.27 408.74 55.78C410.29 56.3 412.35 56.99 413.9 57.43C415.45 57.88 416.83 58.05 418.03 58.47C419.24 58.88 419.93 60.02 421.13 59.91C422.34 59.81 423.88 58.19 425.26 57.85C426.64 57.5 428.27 57.57 429.39 57.85C430.51 58.12 430.88 58.71 432 59.5C433.12 60.29 434.75 61.5 436.13 62.6C437.51 63.7 438.88 65.25 440.26 66.11C441.64 66.97 443.19 67.83 444.39 67.76C445.6 67.69 446.28 66.9 447.49 65.7C448.69 64.49 450.24 62.18 451.62 60.53C453 58.88 454.37 56.64 455.75 55.78C457.13 54.92 458.68 55.61 459.88 55.37C461.09 55.13 461.95 55.71 462.98 54.34C464.01 52.96 464.87 49.17 466.08 47.11C467.28 45.04 468.83 43.6 470.21 41.95C471.58 40.29 473.3 38.12 474.34 37.2C475.37 36.27 475.54 36.16 476.4 36.37C477.26 36.58 478.3 37.95 479.5 38.43C480.7 38.92 482.25 39.19 483.63 39.26C485.01 39.33 486.38 38.3 487.76 38.85C489.14 39.4 490.51 41.36 491.89 42.57C493.27 43.77 494.64 44.8 496.02 46.08C497.4 47.35 498.78 48.83 500.15 50.21C501.53 51.58 502.91 52.79 504.28 54.34C505.66 55.89 507.04 57.95 508.41 59.5C509.79 61.05 511.17 62.25 512.54 63.63C513.92 65.01 515.47 66.38 516.67 67.76C517.88 69.14 518.57 70.69 519.77 71.89C520.98 73.1 522.53 74.23 523.9 74.99C525.28 75.75 526.83 75.92 528.03 76.43C529.24 76.95 529.93 77.98 531.13 78.09C532.34 78.19 533.88 77.57 535.26 77.05C536.64 76.54 537.84 75.33 539.39 74.99C540.94 74.64 543.69 74.99 544.55 74.99"/>
<path d="M324.5 6.7H544.8" fill="none" stroke="#444" stroke-width="1"/>
<path d="M544.8 6.7V167.5" fill="none" stroke="#777" stroke-width="1"/>
<path d="M324.5 6.3V167.5H545.2" fill="none" stroke="#111" stroke-width="1.3"/>
<path d="M324.5 167.5v3.6M352.04 167.5v2M379.57 167.5v3.6M407.11 167.5v2M434.65 167.5v3.6M462.19 167.5v2M489.72 167.5v3.6M517.26 167.5v2M544.8 167.5v3.6M324.5 6.7h-3.6M324.5 22.78h-2M324.5 38.86h-3.6M324.5 54.94h-2M324.5 71.02h-3.6M324.5 87.1h-2M324.5 103.18h-3.6M324.5 119.26h-2M324.5 135.34h-3.6M324.5 151.42h-2M324.5 167.5h-3.6" stroke="#111" stroke-width="1.1" fill="none"/>
<text class="tk" x="324.8" y="180.1" text-anchor="middle">0</text>
<text class="tk" x="379.88" y="180.1" text-anchor="middle">100</text>
<text class="tk" x="434.95" y="180.1" text-anchor="middle">200</text>
<text class="tk" x="490.02" y="180.1" text-anchor="middle">300</text>
<text class="tk" x="545.1" y="180.1" text-anchor="middle">400</text>
<text class="tk" x="318.9" y="9.7" text-anchor="end">-1.1</text>
<text class="tk" x="318.9" y="41.86" text-anchor="end">-1.2</text>
<text class="tk" x="318.9" y="74.02" text-anchor="end">-1.3</text>
<text class="tk" x="318.9" y="106.18" text-anchor="end">-1.4</text>
<text class="tk" x="318.9" y="138.34" text-anchor="end">-1.5</text>
<text class="tk" x="318.9" y="170.5" text-anchor="end">-1.6</text>
<text class="ax" transform="translate(427 190.9) scale(0.882 1)" text-anchor="middle" style="font-size:9.6px">Distance (nm)</text>
<text class="ax" transform="translate(296.6 79.6) rotate(-90) scale(0.972 1)" text-anchor="middle" style="font-size:10px">Electric potential (V)</text>
<rect x="528.6" y="6.7" width="16.2" height="15" fill="#fff" stroke="#222" stroke-width="1"/>
<text class="pl" x="537" y="17.5" text-anchor="middle">c</text>
<text class="lt" x="339" y="99.7" style="font-size:7.55px">Relative humidity (RH):</text>
<path stroke="#111" stroke-width="1.0" d="M338.6 106.5H356.8"/>
<text class="lg" x="359.3" y="109.6" style="font-size:7.86px">30%</text>
<path stroke="#111" stroke-width="1.0" stroke-dasharray="1 1.1" d="M338.6 116.5H356.8"/>
<text class="lg" x="359.3" y="119.3" style="font-size:7.86px">50%</text>
<path stroke="#111" stroke-width="1.0" stroke-dasharray="2.4 1.3" d="M338.6 126.5H356.8"/>
<text class="lg" x="359.3" y="129" style="font-size:7.86px">70%</text>
<text class="lg" x="352.3" y="138.7" style="font-size:7.86px">Back to</text>
<path stroke="#111" stroke-width="1.0" stroke-dasharray="3 0.9 1 0.9" d="M338.6 145.5H356.8"/>
<text class="lg" x="359.3" y="148.4" style="font-size:7.86px">30% (obtained immediately)</text>
<path stroke="#222" stroke-width="1.0" stroke-dasharray="2.4 0.7 0.8 0.7 0.8 0.7" d="M338.6 155.5H356.8"/>
<text class="lg" x="359.3" y="158.1" style="font-size:7.86px">30% (after 90 min)</text>
</g>
<g id="panel-d">
<path stroke="#111" stroke-width="1.05" stroke-dasharray="3 0.7 0.8 0.7 0.8 0.7" d="M324.48 321.89C325.27 322.06 327.58 322.41 329.23 322.92C330.88 323.44 332.67 324.13 334.39 324.99C336.11 325.85 337.83 327.23 339.55 328.09C341.28 328.95 343 329.98 344.72 330.15C346.44 330.32 348.16 329.29 349.88 329.12C351.6 328.95 353.32 329.12 355.04 329.12C356.76 329.12 358.49 329.29 360.21 329.12C361.93 328.95 363.65 328.33 365.37 328.09C367.09 327.85 368.81 327.5 370.53 327.67C372.25 327.85 373.97 328.53 375.7 329.12C377.42 329.7 379.14 330.57 380.86 331.18C382.58 331.8 384.3 332.84 386.02 332.84C387.74 332.84 389.46 331.7 391.18 331.18C392.91 330.67 394.63 330.08 396.35 329.74C398.07 329.39 399.79 329.12 401.51 329.12C403.23 329.12 404.95 329.57 406.67 329.74C408.39 329.91 410.12 329.91 411.84 330.15C413.56 330.39 415.28 330.77 417 331.18C418.72 331.6 420.44 332.11 422.16 332.63C423.88 333.15 425.69 333.94 427.33 334.28C428.97 334.63 430.19 335.14 432 334.7C433.81 334.25 436.2 332.63 438.2 331.6C440.19 330.57 442.26 329.39 443.98 328.5C445.7 327.61 447.32 326.71 448.52 326.23C449.73 325.75 450.17 325.57 451.21 325.61C452.24 325.64 453.51 325.95 454.72 326.43C455.92 326.92 457.06 327.54 458.43 328.5C459.81 329.46 461.36 331.05 462.98 332.22C464.6 333.39 466.76 334.83 468.14 335.52C469.52 336.21 470.21 336.62 471.24 336.35C472.27 336.07 473.27 334.59 474.34 333.87C475.4 333.15 475.82 332.77 477.64 332.01C479.47 331.25 482.74 329.98 485.28 329.33C487.83 328.67 490.38 328.6 492.92 328.09C495.47 327.57 498.12 326.43 500.57 326.23C503.01 326.02 505.97 327.05 507.59 326.85C509.2 326.64 509.31 325.95 510.27 324.99C511.24 324.03 511.79 323.3 513.37 321.07C514.95 318.83 517.64 314.63 519.77 311.57C521.91 308.5 523.94 305.44 526.17 302.68C528.41 299.93 531.16 297.18 533.2 295.04C535.23 292.91 536.64 291.95 538.36 289.88C540.08 287.82 542.66 283.86 543.52 282.65"/>
<path stroke="#000" stroke-width="1.15" stroke-dasharray="3 0.8 1 0.8" d="M324.48 287.82C325.1 288.68 326.89 291.26 328.2 292.98C329.5 294.7 330.95 296.52 332.33 298.14C333.7 299.76 335.08 301.48 336.46 302.68C337.83 303.89 339.04 304.99 340.59 305.37C342.14 305.75 344.03 305.2 345.75 304.96C347.47 304.72 349.19 303.92 350.91 303.92C352.63 303.92 354.53 304.54 356.08 304.96C357.62 305.37 358.83 305.58 360.21 306.4C361.58 307.23 362.96 308.54 364.34 309.91C365.71 311.29 367.09 313.01 368.47 314.66C369.84 316.32 371.22 318.11 372.6 319.83C373.97 321.55 375.35 323.44 376.73 324.99C378.11 326.54 379.48 327.91 380.86 329.12C382.24 330.32 383.78 332.05 384.99 332.22C386.19 332.39 387.05 331.18 388.09 330.15C389.12 329.12 390.15 327.05 391.18 326.02C392.22 324.99 392.91 324.47 394.28 323.96C395.66 323.44 397.72 323.27 399.45 322.92C401.17 322.58 403.06 322.58 404.61 321.89C406.16 321.2 407.36 319.65 408.74 318.79C410.12 317.93 411.32 316.9 412.87 316.73C414.42 316.56 416.31 317.07 418.03 317.76C419.75 318.45 421.65 320.07 423.2 320.86C424.74 321.65 425.86 322.86 427.33 322.51C428.79 322.17 430.53 319.76 432 318.79C433.47 317.83 434.75 317.18 436.13 316.73C437.51 316.28 438.88 316.01 440.26 316.11C441.64 316.21 442.84 316.56 444.39 317.35C445.94 318.14 447.83 319.59 449.55 320.86C451.28 322.13 453 323.61 454.72 324.99C456.44 326.37 458.16 327.91 459.88 329.12C461.6 330.32 463.36 331.32 465.04 332.22C466.73 333.11 468.52 334.49 470 334.49C471.48 334.49 472.65 333.08 473.92 332.22C475.2 331.36 476.37 330.19 477.64 329.33C478.91 328.47 480.29 327.67 481.57 327.05C482.84 326.43 483.39 325.75 485.28 325.61C487.18 325.47 490.38 325.92 492.92 326.23C495.47 326.54 498.33 327.26 500.57 327.47C502.8 327.67 504.97 327.78 506.35 327.47C507.72 327.16 507.55 327.3 508.83 325.61C510.1 323.92 511.96 320.1 513.99 317.35C516.02 314.59 519.22 310.81 521.01 309.09C522.8 307.37 523.04 307.68 524.73 307.02C526.41 306.37 530.06 305.47 531.13 305.16"/>
<path stroke="#111" stroke-width="1.1" stroke-dasharray="1.1 1.5" d="M324.48 276.87C324.93 277.49 326.03 279.28 327.16 280.59C328.3 281.89 329.92 283.62 331.29 284.72C332.67 285.82 334.05 287.13 335.42 287.2C336.8 287.26 338.18 285.61 339.55 285.13C340.93 284.65 342.31 284.1 343.68 284.3C345.06 284.51 346.44 285.96 347.82 286.37C349.19 286.78 350.74 286.89 351.95 286.78C353.15 286.68 354.01 286.27 355.04 285.75C356.08 285.23 356.94 283.68 358.14 283.68C359.35 283.68 360.89 284.55 362.27 285.75C363.65 286.95 365.03 289.02 366.4 290.91C367.78 292.81 369.16 295.22 370.53 297.11C371.91 299 373.29 300.83 374.66 302.27C376.04 303.72 377.42 304.99 378.79 305.78C380.17 306.57 381.38 307.16 382.92 307.02C384.47 306.88 386.37 305.16 388.09 304.96C389.81 304.75 391.53 305.44 393.25 305.78C394.97 306.13 396.69 306.92 398.41 307.02C400.13 307.12 402.03 307.02 403.58 306.4C405.12 305.78 406.33 303.82 407.71 303.3C409.08 302.79 410.46 302.96 411.84 303.3C413.21 303.65 414.59 304.85 415.97 305.37C417.34 305.89 418.72 306.33 420.1 306.4C421.47 306.47 422.85 306.13 424.23 305.78C425.61 305.44 427.06 305.44 428.36 304.34C429.65 303.24 430.7 300.55 432 299.17C433.3 297.8 434.75 296.76 436.13 296.08C437.51 295.39 438.88 294.87 440.26 295.04C441.64 295.22 443.01 296.25 444.39 297.11C445.77 297.97 447.14 299.17 448.52 300.21C449.9 301.24 451.28 302.27 452.65 303.3C454.03 304.34 455.41 305.44 456.78 306.4C458.16 307.37 459.54 308.3 460.91 309.09C462.29 309.88 463.67 311.26 465.04 311.15C466.42 311.05 467.8 309.78 469.17 308.47C470.55 307.16 471.93 305.03 473.3 303.3C474.68 301.58 476.06 299.17 477.43 298.14C478.81 297.11 480.19 296.94 481.57 297.11C482.94 297.28 484.32 298.14 485.7 299.17C487.07 300.21 488.45 301.76 489.83 303.3C491.2 304.85 492.58 306.92 493.96 308.47C495.33 310.02 496.71 311.32 498.09 312.6C499.46 313.87 500.94 315.32 502.22 316.11C503.49 316.9 504.73 317.45 505.73 317.35C506.73 317.24 506.73 316.87 508.21 315.49C509.69 314.11 512.78 310.7 514.61 309.09C516.43 307.47 517.67 306.54 519.15 305.78C520.63 305.03 521.91 304.85 523.49 304.54C525.07 304.23 526.93 304.44 528.65 303.92C530.37 303.41 532.34 302.51 533.82 301.45C535.3 300.38 536.4 299.14 537.53 297.52C538.67 295.9 539.7 293.67 540.63 291.74C541.56 289.81 542.56 287.47 543.11 285.96C543.66 284.44 543.8 283.2 543.93 282.65"/>
<path stroke="#111" stroke-width="1.1" stroke-dasharray="2.8 1.7" d="M324.48 276.87C325.1 277.14 326.89 278.07 328.2 278.52C329.5 278.97 330.78 279.49 332.33 279.55C333.88 279.62 335.77 279.18 337.49 278.93C339.21 278.69 340.93 278.42 342.65 278.11C344.37 277.8 346.27 277.28 347.82 277.08C349.36 276.87 350.57 276.46 351.95 276.87C353.32 277.28 354.7 278.59 356.08 279.55C357.45 280.52 358.83 281.45 360.21 282.65C361.58 283.86 362.96 285.06 364.34 286.78C365.71 288.5 367.09 291.09 368.47 292.98C369.84 294.87 371.22 296.7 372.6 298.14C373.97 299.59 375.35 300.89 376.73 301.65C378.11 302.41 379.48 302.93 380.86 302.68C382.24 302.44 383.61 301.48 384.99 300.21C386.37 298.93 387.74 296.35 389.12 295.04C390.5 293.74 391.87 292.7 393.25 292.36C394.63 292.01 396 292.7 397.38 292.98C398.76 293.25 400.13 293.49 401.51 294.01C402.89 294.53 404.26 295.73 405.64 296.08C407.02 296.42 408.39 295.9 409.77 296.08C411.15 296.25 412.53 296.42 413.9 297.11C415.28 297.8 416.66 299.35 418.03 300.21C419.41 301.07 420.79 302.27 422.16 302.27C423.54 302.27 424.92 301.07 426.29 300.21C427.67 299.35 429.47 298.14 430.42 297.11C431.38 296.08 431.05 294.87 432 294.01C432.95 293.15 434.75 292.63 436.13 291.95C437.51 291.26 439.06 289.88 440.26 289.88C441.47 289.88 442.15 290.91 443.36 291.95C444.56 292.98 446.11 294.7 447.49 296.08C448.87 297.45 450.24 299 451.62 300.21C453 301.41 454.37 302.27 455.75 303.3C457.13 304.34 458.5 305.78 459.88 306.4C461.26 307.02 462.63 307.37 464.01 307.02C465.39 306.68 466.76 305.3 468.14 304.34C469.52 303.37 470.89 302.44 472.27 301.24C473.65 300.03 475.03 298.07 476.4 297.11C477.78 296.14 479.16 295.46 480.53 295.46C481.91 295.46 483.29 296.14 484.66 297.11C486.04 298.07 487.42 299.86 488.79 301.24C490.17 302.62 491.55 304.06 492.92 305.37C494.3 306.68 495.78 308.16 497.05 309.09C498.33 310.02 499.26 311.39 500.57 310.95C501.87 310.5 503.56 308.02 504.9 306.4C506.24 304.78 507.35 303.03 508.62 301.24C509.89 299.45 511.27 297.66 512.54 295.66C513.82 293.67 515.09 290.98 516.26 289.26C517.43 287.54 518.39 286.4 519.57 285.34C520.74 284.27 521.8 283.58 523.28 282.86C524.76 282.14 526.72 281.69 528.45 281C530.17 280.31 532.13 279.69 533.61 278.73C535.09 277.76 536.05 276.46 537.33 275.22C538.6 273.98 540.29 272.26 541.25 271.29C542.21 270.33 542.8 269.74 543.11 269.43"/>
<path stroke="#111" stroke-width="1.15" d="M324.48 283.68C325.1 283.86 327.06 284.03 328.2 284.72C329.33 285.41 330.26 286.54 331.29 287.82C332.33 289.09 333.36 292.53 334.39 292.36C335.42 292.19 336.46 288.47 337.49 286.78C338.52 285.1 339.55 282.65 340.59 282.24C341.62 281.83 342.65 284.24 343.68 284.3C344.72 284.37 345.75 283.44 346.78 282.65C347.82 281.86 348.85 279.9 349.88 279.55C350.91 279.21 351.95 279.9 352.98 280.59C354.01 281.28 355.04 282.72 356.08 283.68C357.11 284.65 357.97 285.68 359.17 286.37C360.38 287.06 362.1 286.89 363.3 287.82C364.51 288.74 365.37 290.22 366.4 291.95C367.43 293.67 368.47 296.08 369.5 298.14C370.53 300.21 371.57 302.44 372.6 304.34C373.63 306.23 374.66 308.12 375.7 309.5C376.73 310.88 377.76 311.91 378.79 312.6C379.83 313.29 380.86 313.29 381.89 313.63C382.92 313.97 383.96 315.01 384.99 314.66C386.02 314.32 387.05 312.15 388.09 311.57C389.12 310.98 390.15 310.98 391.18 311.15C392.22 311.32 393.25 312.53 394.28 312.6C395.32 312.67 396.18 311.81 397.38 311.57C398.59 311.32 400.31 311.67 401.51 311.15C402.72 310.64 403.58 309.78 404.61 308.47C405.64 307.16 406.67 304.34 407.71 303.3C408.74 302.27 409.77 302.1 410.8 302.27C411.84 302.44 412.87 303.48 413.9 304.34C414.93 305.2 415.97 306.99 417 307.43C418.03 307.88 418.89 306.75 420.1 307.02C421.3 307.3 422.85 308.61 424.23 309.09C425.61 309.57 427.06 310.7 428.36 309.91C429.65 309.12 430.7 305.61 432 304.34C433.3 303.06 434.75 302.72 436.13 302.27C437.51 301.82 438.88 301.48 440.26 301.65C441.64 301.82 443.19 302.86 444.39 303.3C445.6 303.75 446.46 303.48 447.49 304.34C448.52 305.2 449.38 307.26 450.59 308.47C451.79 309.67 453.34 310.53 454.72 311.57C456.09 312.6 457.47 313.63 458.85 314.66C460.22 315.7 461.6 316.83 462.98 317.76C464.36 318.69 465.9 319.55 467.11 320.24C468.31 320.93 469.17 322.48 470.21 321.89C471.24 321.31 472.27 318.45 473.3 316.73C474.34 315.01 475.2 312.94 476.4 311.57C477.61 310.19 479.16 309.43 480.53 308.47C481.91 307.5 483.53 306.47 484.66 305.78C485.8 305.09 486.49 303.89 487.35 304.34C488.21 304.78 488.9 306.75 489.83 308.47C490.76 310.19 491.89 312.77 492.92 314.66C493.96 316.56 495.16 318.55 496.02 319.83C496.88 321.1 497.36 321.44 498.09 322.3C498.81 323.16 499.36 324.16 500.36 324.99C501.36 325.82 502.94 327.02 504.08 327.26C505.21 327.5 506.04 327.61 507.17 326.43C508.31 325.26 509.55 322.48 510.89 320.24C512.23 318 513.78 315.14 515.23 313.01C516.67 310.88 518.12 309.12 519.57 307.43C521.01 305.75 522.39 304.44 523.9 302.89C525.42 301.34 527.48 299.35 528.65 298.14C529.82 296.94 529.27 297.8 530.92 295.66C532.58 293.53 536.43 287.88 538.57 285.34C540.7 282.79 542.87 281.21 543.73 280.38"/>
<path d="M324.4 205.9H544.5" fill="none" stroke="#444" stroke-width="1"/>
<path d="M544.5 205.9V367" fill="none" stroke="#777" stroke-width="1"/>
<path d="M324.4 205.5V367H544.9" fill="none" stroke="#111" stroke-width="1.3"/>
<path d="M324.4 367v3.6M351.91 367v2M379.42 367v3.6M406.94 367v2M434.45 367v3.6M461.96 367v2M489.48 367v3.6M516.99 367v2M544.5 367v3.6M324.4 205.9h-3.6M324.4 222.01h-2M324.4 238.12h-3.6M324.4 254.23h-2M324.4 270.34h-3.6M324.4 286.45h-2M324.4 302.56h-3.6M324.4 318.67h-2M324.4 334.78h-3.6M324.4 350.89h-2M324.4 367h-3.6" stroke="#111" stroke-width="1.1" fill="none"/>
<text class="tk" x="324.7" y="379.6" text-anchor="middle">0</text>
<text class="tk" x="379.72" y="379.6" text-anchor="middle">100</text>
<text class="tk" x="434.75" y="379.6" text-anchor="middle">200</text>
<text class="tk" x="489.78" y="379.6" text-anchor="middle">300</text>
<text class="tk" x="544.8" y="379.6" text-anchor="middle">400</text>
<text class="tk" x="318.8" y="208.9" text-anchor="end">-1.0</text>
<text class="tk" x="318.8" y="241.12" text-anchor="end">-1.1</text>
<text class="tk" x="318.8" y="273.34" text-anchor="end">-1.2</text>
<text class="tk" x="318.8" y="305.56" text-anchor="end">-1.3</text>
<text class="tk" x="318.8" y="337.78" text-anchor="end">-1.4</text>
<text class="tk" x="318.8" y="370" text-anchor="end">-1.5</text>
<text class="ax" transform="translate(423.8 389) scale(0.912 1)" text-anchor="middle" style="font-size:9.6px">Distance (nm)</text>
<text class="ax" transform="translate(296.8 288.3) rotate(-90) scale(0.970 1)" text-anchor="middle" style="font-size:10px">Electric potential (V)</text>
<rect x="530.4" y="205.9" width="14.1" height="14.5" fill="#fff" stroke="#222" stroke-width="1"/>
<text class="pl" x="537.75" y="216.45" text-anchor="middle">d</text>
<text class="lt" x="386.3" y="216.4" style="font-size:7.5px">Relative humidity (RH):</text>
<path stroke="#111" stroke-width="1.0" d="M385.1 223.5H403.5"/>
<text class="lg" x="405.8" y="226.6" style="font-size:7.9px">30%</text>
<path stroke="#111" stroke-width="1.0" stroke-dasharray="1 1.1" d="M385.1 233.5H403.5"/>
<text class="lg" x="405.8" y="236.26" style="font-size:7.9px">50%</text>
<path stroke="#111" stroke-width="1.0" stroke-dasharray="2.4 1.3" d="M385.1 243.5H403.5"/>
<text class="lg" x="405.8" y="245.92" style="font-size:7.9px">70%</text>
<text class="lg" x="398.8" y="255.58" style="font-size:7.9px">Back to</text>
<path stroke="#111" stroke-width="1.0" stroke-dasharray="3 0.9 1 0.9" d="M385.1 262.5H403.5"/>
<text class="lg" x="405.8" y="265.24" style="font-size:7.9px">30% (obtained immediately)</text>
<path stroke="#222" stroke-width="1.0" stroke-dasharray="2.4 0.7 0.8 0.7 0.8 0.7" d="M385.1 272.5H403.5"/>
<text class="lg" x="405.8" y="274.9" style="font-size:7.9px">30% (after 90 min)</text>
</g>
</svg></body></html>
